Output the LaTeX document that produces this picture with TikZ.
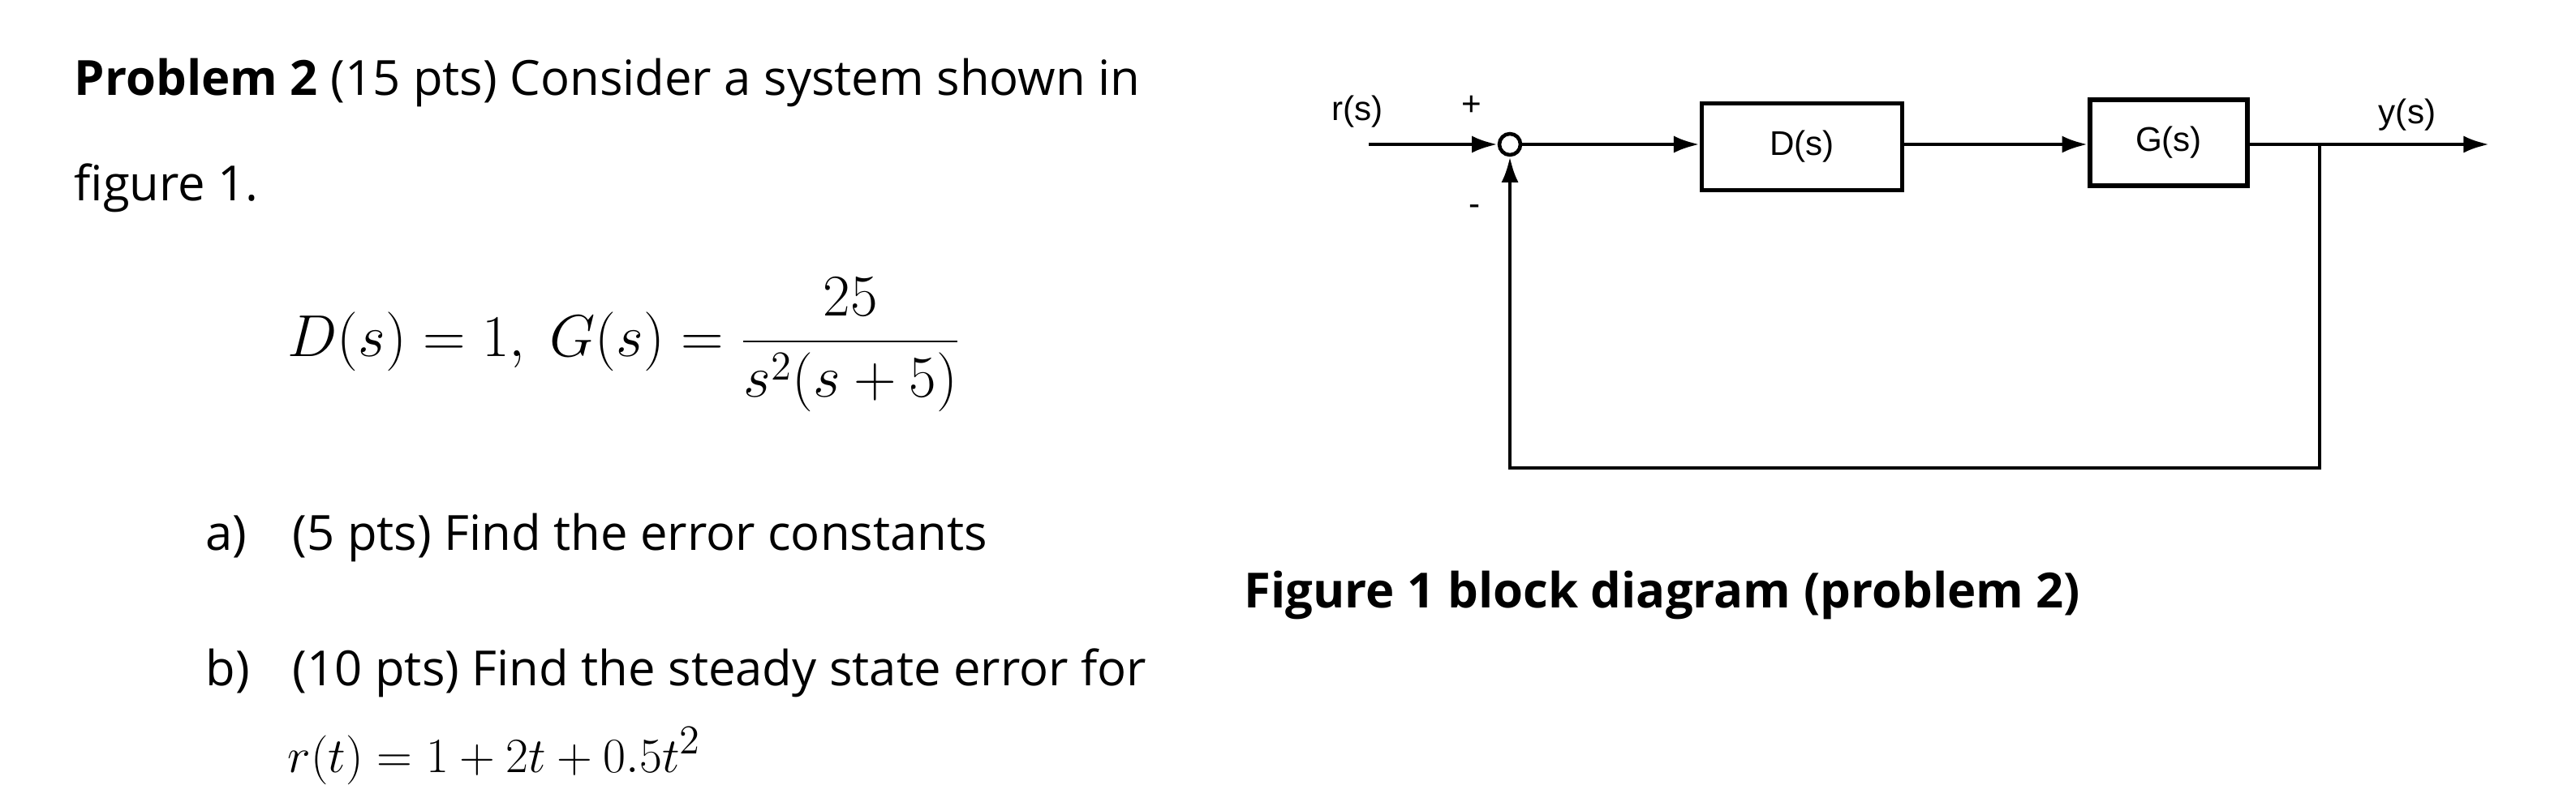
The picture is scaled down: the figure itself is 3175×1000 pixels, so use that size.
\documentclass[tikz,border=0pt]{standalone}
\usepackage{fontspec}
\setmainfont{Open Sans}
\newfontfamily\arialf{Liberation Sans}
\usetikzlibrary{arrows.meta}
\begin{document}
\begin{tikzpicture}[x=0.01cm,y=-0.01cm,
  txt/.style={anchor=base west,inner sep=0,font=\fontsize{17}{20}\selectfont},
  lab/.style={inner sep=0,font=\arialf\fontsize{12}{14}\selectfont},
  blk/.style={draw,line width=1.6pt,minimum width=2.47cm,minimum height=1.07cm,inner sep=0,font=\arialf\fontsize{12}{14}\selectfont},
  wire/.style={line width=1.3pt},
  arr/.style={wire,-{Latex[length=9pt,width=6pt]}}]
\useasboundingbox (0,0) rectangle (3175,1000);
\node[txt] (t1) at (91,117) {\textbf{Problem 2} (15 pts) Consider a system shown in};
\node[txt] (t2) at (91,247) {figure 1.};
\node[anchor=west,inner sep=0,font=\fontsize{19.5}{23}\selectfont] (eq) at (354,425) {$\displaystyle D(s)=1,\ G(s)=\frac{25}{s^2(s+5)}$};
\node[txt] (a1) at (253,678) {a)};
\node[txt] (a2) at (360,678) {(5 pts) Find the error constants};
\node[txt] (b1) at (253,845) {b)};
\node[txt] (b2) at (360,845) {(10 pts) Find the steady state error for};
\node[anchor=base west,inner sep=0,font=\fontsize{19}{22}\selectfont] (b3) at (354,952) {$r(t)=1+2t+0.5t^2$};
\node[anchor=base,inner sep=0,font=\bfseries\fontsize{17}{20}\selectfont] (cap) at (2049,749) {Figure 1 block diagram (problem 2)};
% diagram
\coordinate (rin) at (1687,178);
\node[circle,draw,line width=1.3pt,minimum size=0.26cm,inner sep=0] (sum) at (1861,178) {};
\node[blk] (D) at (2221,181) {D(s)};
\node[blk,minimum width=1.94cm,minimum height=1.06cm] (G) at (2673,176) {G(s)};
\coordinate (br) at (2859,178);
\coordinate (out) at (3068,178);
\coordinate (bl) at (2859,577);
\coordinate (bs) at (1861,577);
\draw[arr] (rin) -- (sum.west);
\draw[arr] (sum.east) -- (D.west |- sum.east);
\draw[arr] (D.east |- br) -- (G.west |- br);
\draw[wire] (G.east |- br) -- (br);
\draw[arr] (br) -- (out);
\draw[arr] (br) -- (bl) -- (bs) -- (sum.south);
\node[lab] (rl) at (1673,138) {r(s)};
\node[lab] (pl) at (1814,130) {+};
\node[lab] (ml) at (1818,259) {-};
\node[lab] (yl) at (2967,142) {y(s)};
\end{tikzpicture}
\end{document}
